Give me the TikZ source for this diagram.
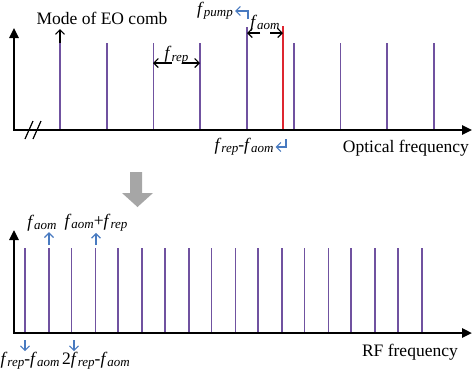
\documentclass[tikz,border=0pt]{standalone}
\usepackage{fontspec}
\setmainfont{Liberation Serif}
\usetikzlibrary{arrows.meta,positioning}
\definecolor{combline}{RGB}{112,82,160}
\definecolor{pumpline}{RGB}{222,38,48}
\definecolor{beatblue}{RGB}{72,122,192}
\newcommand{\fq}[1]{\textit{f}\raisebox{-0.3ex}{\fontsize{13}{13}\selectfont\textit{#1}}}

\begin{document}
\begin{tikzpicture}[x=1pt, y=-1pt,
    axis/.style={line width=2.4pt, {Triangle[length=10pt,width=9pt]}-{Triangle[length=10pt,width=9pt]}},
    comb/.style={combline, line width=1.6pt},
    arr/.style={-{Straight Barb[length=4.5pt,width=9pt]}, line width=1.1pt},
    bluearr/.style={arr, beatblue},
    lbl/.style={font=\fontsize{17.5}{20}\selectfont, inner sep=0pt}
  ]
    \useasboundingbox (0,0) rectangle (474,373);

    % optical spectrum
    \foreach \i/\h in {0/43,1/43,2/43,3/43,4/27,5/43,6/43,7/43,8/43} {
      \coordinate (m\i) at (60+46.75*\i,130);
      \coordinate (t\i) at (60+46.75*\i,\h);
      \draw[comb] (m\i) -- (t\i);
    }
    \coordinate (pump) at (283,130);
    \coordinate (pumptop) at (283,26);
    \draw[pumpline, line width=1.6pt] (pump) -- (pumptop);

    \coordinate (o1) at (14,130);
    \coordinate (y1) at (14,28);
    \coordinate (x1) at (472,130);
    \draw[axis] (y1) -- (o1) -- (x1);
    \draw[line width=1.2pt] (25,139) -- (33,121) (33,139) -- (41,121);

    \node[lbl] (mode) at (102,18) {Mode of EO comb};
    \coordinate (modetip) at (60,29);
    \draw[arr] (t0) -- (modetip);

    \coordinate (rl) at (153,63);
    \coordinate (rr) at (200,63);
    \path (rl) -- (rr) coordinate[midway] (rmid);
    \draw[arr, shorten <=5pt] (rmid) -- (rl);
    \draw[arr, shorten <=5pt] (rmid) -- (rr);
    \node[lbl, above=-1pt of rmid] (frep) {\fq{rep}};

    \coordinate (al) at (247,33);
    \coordinate (ar) at (283,33);
    \path (al) -- (ar) coordinate[midway] (amid);
    \draw[arr, shorten <=5pt] (amid) -- (al);
    \draw[arr, shorten <=5pt] (amid) -- (ar);
    \node[lbl, above=2pt of amid] (faomtop) {\fq{aom}};

    \node[lbl] (fpump) at (215,11) {\fq{pump}};
    \coordinate (pp) at (248,19);
    \draw[bluearr, shorten >=2pt] (pp) |- (fpump.east);

    \node[lbl] (fdiff) at (244,147) {\fq{rep}-\fq{aom}};
    \coordinate (pd) at (286,139);
    \draw[bluearr, shorten >=2pt] (pd) |- (fdiff.east);

    \node[lbl, anchor=east] (optlbl) at (469,148) {Optical frequency};

    % down-conversion
    \fill[gray!70] (130,172) -- (142,172) -- (142,193) -- (153,193) -- (137.5,207) -- (122,193) -- (130,193) -- cycle;

    % RF spectrum
    \foreach \i in {0,...,8} {
      \coordinate (a\i) at (25+46.6*\i,333);
      \coordinate (at\i) at (25+46.6*\i,248);
      \coordinate (b\i) at (49+46.6*\i,333);
      \coordinate (bt\i) at (49+46.6*\i,248);
      \draw[comb] (a\i) -- (at\i);
      \draw[comb] (b\i) -- (bt\i);
    }

    \coordinate (o2) at (14,333);
    \coordinate (y2) at (14,230);
    \coordinate (x2) at (472,333);
    \draw[axis] (y2) -- (o2) -- (x2);

    \node[lbl] (faom) at (42,223) {\fq{aom}};
    \node[lbl] (faomrep) at (96,223) {\fq{aom}+\fq{rep}};
    \coordinate (u0) at (49,245);
    \coordinate (u1) at (96,245);
    \draw[bluearr, shorten >=1pt] (u0) -- (u0 |- faom.south);
    \draw[bluearr, shorten >=1pt] (u1) -- (u1 |- faomrep.south);

    \node[lbl] (rdiff) at (30,361) {\fq{rep}-\fq{aom}};
    \node[lbl] (rdiff2) at (96,361) {2\fq{rep}-\fq{aom}};
    \coordinate (d0) at (25,340);
    \coordinate (d1) at (74,340);
    \draw[bluearr, shorten >=1pt] (d0) -- (d0 |- rdiff.north);
    \draw[bluearr, shorten >=1pt] (d1) -- (d1 |- rdiff2.north);

    \node[lbl, anchor=east] (rflbl) at (458,352) {RF frequency};
  \end{tikzpicture}
\end{document}
